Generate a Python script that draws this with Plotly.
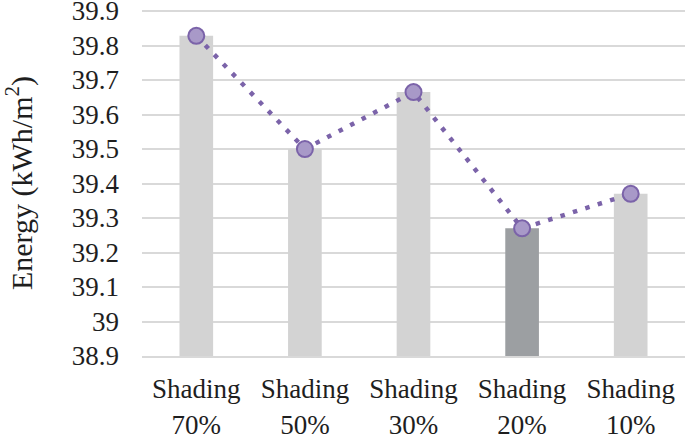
import plotly.graph_objects as go

categories = ["Shading<br>70%", "Shading<br>50%", "Shading<br>30%", "Shading<br>20%", "Shading<br>10%"]
energy = [39.828, 39.50, 39.665, 39.27, 39.37]
bar_colors = ["#d3d3d3", "#d3d3d3", "#d3d3d3", "#9c9fa2", "#d3d3d3"]
y_ticks = [38.9, 39.0, 39.1, 39.2, 39.3, 39.4, 39.5, 39.6, 39.7, 39.8, 39.9]
y_labels = ["38.9", "39", "39.1", "39.2", "39.3", "39.4", "39.5", "39.6", "39.7", "39.8", "39.9"]

serif = "Liberation Serif"
txt = "#1e1e1e"

fig = go.Figure()
# bars start at the bottom of the axis (38.9)
fig.add_trace(go.Bar(x=categories, y=[v - 38.9 for v in energy], base=38.9,
                     marker=dict(color=bar_colors, line=dict(width=0)), showlegend=False))
fig.add_trace(go.Scatter(x=categories, y=energy, mode="lines+markers",
                         line=dict(color="#7b63a9", width=4.5, dash="4.5px,8.5px"),
                         marker=dict(size=16, color="#a899c8", line=dict(color="#7b63a9", width=2)),
                         showlegend=False, cliponaxis=False))

fig.update_layout(
    width=685, height=434,
    margin=dict(l=142, r=0, t=10, b=78),
    paper_bgcolor="white", plot_bgcolor="white",
    bargap=0.69,
    font=dict(family=serif, size=27, color=txt),
    xaxis=dict(showgrid=False, showline=True, linecolor="#d9d9d9", linewidth=2,
               ticks="", ticklabelstandoff=8, automargin=False,
               tickfont=dict(family=serif, size=27, color=txt)),
    yaxis=dict(range=[38.9, 39.903], showgrid=True, gridcolor="#d9d9d9",
               gridwidth=1.5, zeroline=False, showline=False, ticks="",
               tickvals=y_ticks, ticktext=y_labels, ticklabelstandoff=22, automargin=False,
               ticklabeloverflow="allow",
               tickfont=dict(family=serif, size=27, color=txt),
               title=dict(text="Energy (kWh/m<sup>2</sup>)",
                          font=dict(family=serif, size=30, color=txt), standoff=52)),
)

# drop the default page margin so the figure fills the window
fig.write_html("out.html", config={"displayModeBar": False},
               post_script="document.body.style.margin='0';document.body.style.overflow='hidden';")
